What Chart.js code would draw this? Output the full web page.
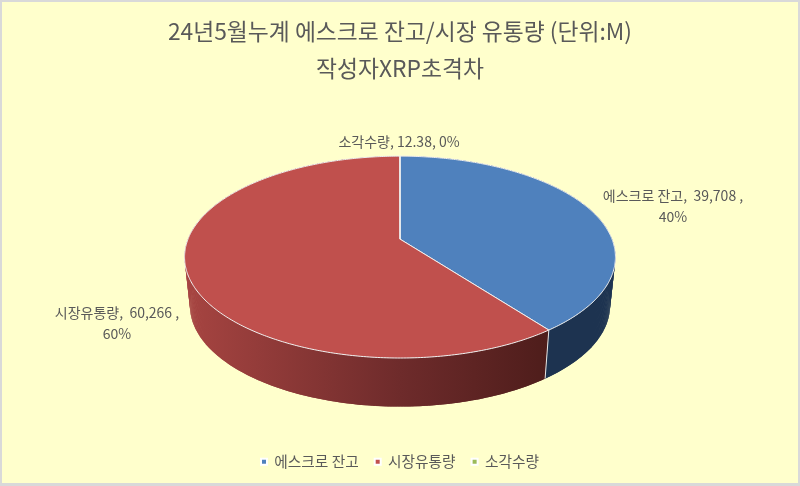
<!DOCTYPE html>
<html>
<head>
<meta charset="utf-8">
<style>
html,body{margin:0;padding:0;background:#fff;}
canvas{display:block;}
</style>
<script src="https://cdn.jsdelivr.net/npm/chart.js@4/dist/chart.umd.min.js"></script>
</head>
<body>
<canvas id="pie3d" width="800" height="486"></canvas>
<script>
var categories = ['에스크로 잔고', '시장유통량', '소각수량'];
var values = [39708, 60266, 12.38];
var percents = ['40%', '60%', '0%'];
var titleLines = ['24년5월누계 에스크로 잔고/시장 유통량 (단위:M)', '작성자XRP초격차'];

var faceColors = ['#4F81BD', '#C0504D', '#9BBB59'];
var sideStops = [
    [[0, '#1D3350'], [1, '#1D3350']],
    [[0, '#A64441'], [0.5, '#6E2B2B'], [0.85, '#4E1D1B'], [1, '#4E1D1B']],
    [[0, '#5F7435'], [1, '#5F7435']]
];
var textColor = '#595959';
var fontName = '"Noto Sans CJK KR", "Noto Sans", sans-serif';

// perspective settings of the 3D look
var persp = 0.178, squash = 0.461, apexFrac = 0.492;
var lowWidth = 0.975, lowSquash = 0.461, lowApexFrac = 0.592;

function project(arc, chart, angle, low){
    var u = Math.cos(angle), v = Math.sin(angle);
    var w = 1 - persp * v;
    var r = arc.outerRadius;
    if(low){
        return [arc.x + r * lowWidth * u / w, chart.height * lowApexFrac + r * lowSquash * v / w];
    }
    return [arc.x + r * u / w, chart.height * apexFrac + r * squash * v / w];
}

function fmtValue(v){
    return v >= 1000 ? v.toLocaleString('en-US') + ' ' : String(v);
}

var pagePlugin = {
    id: 'pagePlugin',
    beforeDraw: function(chart){
        var c = chart.ctx;
        c.save();
        c.fillStyle = '#D9D9D9';
        c.fillRect(0, 0, chart.width, chart.height);
        c.fillStyle = '#FFFFCC';
        c.fillRect(2, 2, chart.width - 4, chart.height - 5);
        c.restore();
    }
};

var pie3dPlugin = {
    id: 'pie3dPlugin',
    beforeDatasetDraw: function(chart, args){
        var c = chart.ctx;
        var arcs = args.meta.data;
        var grad, i, k, n, a0, a1, p, span;
        c.save();
        // outer wall, each piece overlaps the next one so no seams show
        arcs.forEach(function(arc, idx){
            grad = c.createLinearGradient(arc.x - arc.outerRadius, 0, arc.x + arc.outerRadius, 0);
            sideStops[idx].forEach(function(s){ grad.addColorStop(s[0], s[1]); });
            c.fillStyle = grad;
            span = arc.endAngle - arc.startAngle;
            n = Math.max(2, Math.ceil(span * 90));
            for(k = 0; k < n; k++){
                a0 = arc.startAngle + span * k / n;
                a1 = arc.startAngle + span * Math.min(n, k + 2) / n;
                c.beginPath();
                p = project(arc, chart, a0, false); c.moveTo(p[0], p[1]);
                p = project(arc, chart, a1, false); c.lineTo(p[0], p[1]);
                p = project(arc, chart, a1, true); c.lineTo(p[0], p[1]);
                p = project(arc, chart, a0, true); c.lineTo(p[0], p[1]);
                c.closePath();
                c.fill();
            }
        });
        // light line where the walls of two slices meet
        arcs.forEach(function(arc){
            if(Math.sin(arc.endAngle) > 0){
                c.strokeStyle = '#E6E6E6';
                c.lineWidth = 1;
                c.beginPath();
                p = project(arc, chart, arc.endAngle, false); c.moveTo(p[0], p[1]);
                p = project(arc, chart, arc.endAngle, true); c.lineTo(p[0], p[1]);
                c.stroke();
            }
        });
        // top faces
        arcs.forEach(function(arc, idx){
            span = arc.endAngle - arc.startAngle;
            n = Math.max(2, Math.ceil(span * 90));
            c.beginPath();
            c.moveTo(arc.x, chart.height * apexFrac);
            for(i = 0; i <= n; i++){
                p = project(arc, chart, arc.startAngle + span * i / n, false);
                c.lineTo(p[0], p[1]);
            }
            c.closePath();
            c.fillStyle = faceColors[idx];
            c.fill();
            c.strokeStyle = '#F0F0F0';
            c.lineWidth = 1;
            c.lineJoin = 'round';
            c.stroke();
        });
        c.restore();
        return false;
    },
    afterDatasetsDraw: function(chart){
        var c = chart.ctx;
        var labelPos = [[673, 196], [117, 313], [399, 142]];
        c.save();
        c.fillStyle = textColor;
        c.font = '14px ' + fontName;
        c.textAlign = 'center';
        c.textBaseline = 'middle';
        categories.forEach(function(cat, i){
            var pos = labelPos[i];
            if(i == 2){
                c.fillText(cat + ', ' + fmtValue(values[i]) + ', ' + percents[i], pos[0], pos[1]);
            }else{
                c.fillText(cat + ',  ' + fmtValue(values[i]) + ',', pos[0], pos[1]);
                c.fillText(percents[i], pos[0], pos[1] + 21);
            }
        });
        c.restore();
    }
};

var ctx = document.getElementById('pie3d').getContext('2d');
var pie3d = new Chart(ctx, {
    type: 'pie',
    data: {
        labels: categories,
        datasets: [{
            data: values,
            backgroundColor: faceColors,
            borderColor: '#FFFFFF',
            borderWidth: 2
        }]
    },
    options: {
        responsive: false,
        animation: false,
        devicePixelRatio: 1,
        radius: 212,
        layout: { padding: { top: 5, bottom: 7 } },
        plugins: {
            title: {
                display: true,
                text: titleLines,
                color: textColor,
                font: { family: fontName, size: 22.8, weight: 'normal', lineHeight: 1.62 },
                padding: { top: 8, bottom: 6 }
            },
            legend: {
                position: 'bottom',
                labels: {
                    color: textColor,
                    font: { family: fontName, size: 14.7 },
                    usePointStyle: true,
                    pointStyle: 'rect',
                    boxWidth: 6,
                    boxHeight: 6,
                    padding: 16
                }
            },
            tooltip: { enabled: false }
        }
    },
    plugins: [pagePlugin, pie3dPlugin]
});
</script>
</body>
</html>
